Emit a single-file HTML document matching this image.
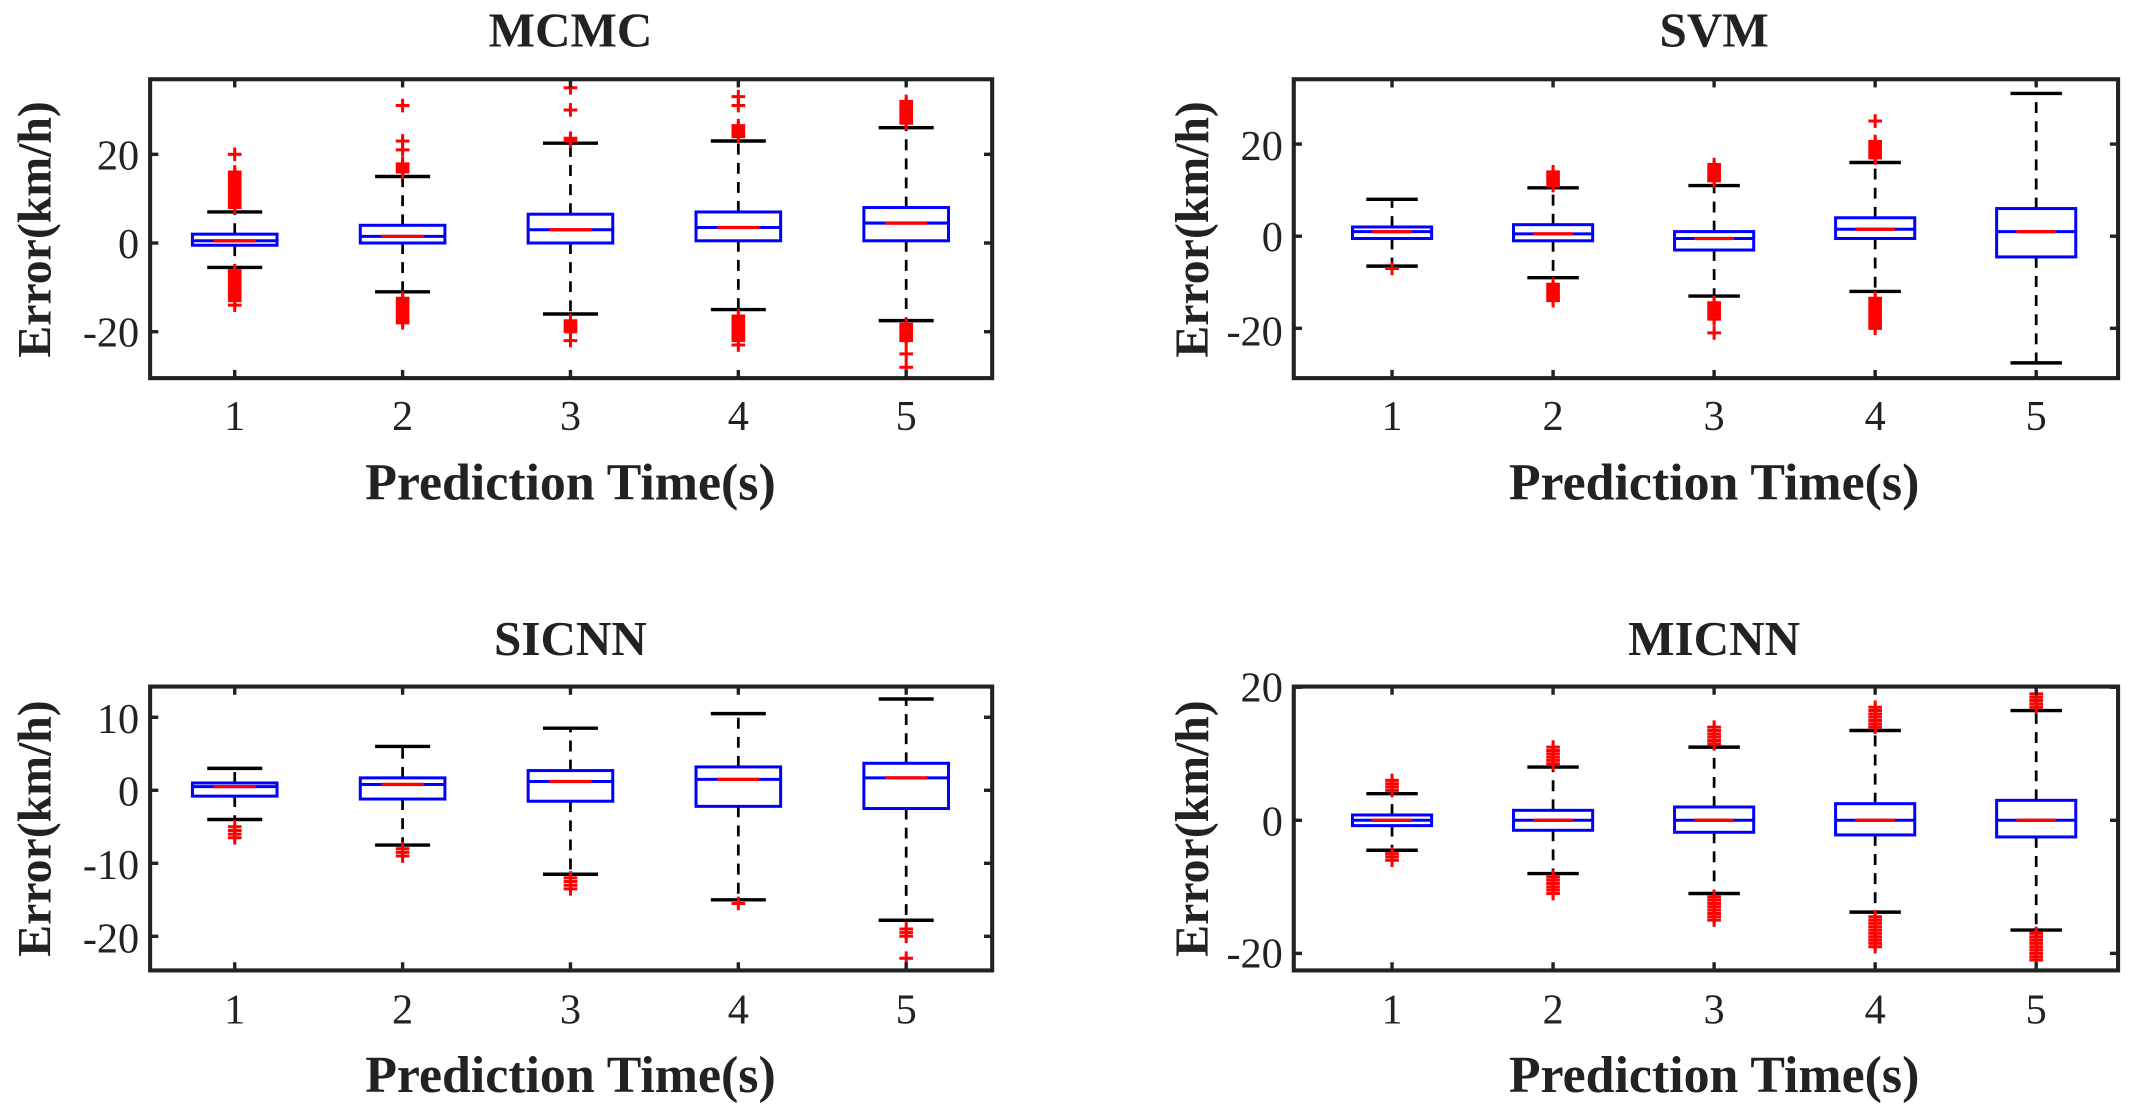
<!DOCTYPE html>
<html><head><meta charset="utf-8"><style>
html,body{margin:0;padding:0;background:#fff;}
svg{display:block;}
text{font-family:"Liberation Serif",serif;fill:#222;}
.t{font-weight:bold;font-size:36px;text-anchor:middle;}
.xl{font-weight:bold;font-size:38px;text-anchor:middle;}
.tk{font-size:31px;}
.yl{font-weight:bold;font-size:35px;text-anchor:middle;}
</style></head><body>
<svg id="s" width="2129" height="1107" viewBox="0 0 1560 811" xmlns="http://www.w3.org/2000/svg">
<text class="t" x="418" y="34">MCMC</text>
<text class="t" x="1256" y="34">SVM</text>
<text class="t" x="418" y="480">SICNN</text>
<text class="t" x="1256" y="480">MICNN</text>
<text class="xl" x="418" y="366">Prediction Time(s)</text>
<text class="xl" x="1256" y="366">Prediction Time(s)</text>
<text class="xl" x="418" y="800">Prediction Time(s)</text>
<text class="xl" x="1256" y="800">Prediction Time(s)</text>
<text class="yl" transform="translate(37,168) rotate(-90)">Error(km/h)</text>
<text class="yl" transform="translate(885,168) rotate(-90)">Error(km/h)</text>
<text class="yl" transform="translate(37,607) rotate(-90)">Error(km/h)</text>
<text class="yl" transform="translate(885,607) rotate(-90)">Error(km/h)</text>
<g class="tk" text-anchor="end">
<text x="102" y="124">20</text><text x="102" y="189">0</text><text x="102" y="254">-20</text>
<text x="940" y="117">20</text><text x="940" y="184">0</text><text x="940" y="253">-20</text>
<text x="102" y="537">10</text><text x="102" y="590">0</text><text x="102" y="644">-10</text><text x="102" y="698">-20</text>
<text x="940" y="514">20</text><text x="940" y="612">0</text><text x="940" y="709">-20</text>
</g>
<g class="tk" text-anchor="middle">
<text x="172" y="315">1</text><text x="295" y="315">2</text><text x="418" y="315">3</text><text x="541" y="315">4</text><text x="664" y="315">5</text>
<text x="1020" y="315">1</text><text x="1138" y="315">2</text><text x="1256" y="315">3</text><text x="1374" y="315">4</text><text x="1492" y="315">5</text>
<text x="172" y="750">1</text><text x="295" y="750">2</text><text x="418" y="750">3</text><text x="541" y="750">4</text><text x="664" y="750">5</text>
<text x="1020" y="750">1</text><text x="1138" y="750">2</text><text x="1256" y="750">3</text><text x="1374" y="750">4</text><text x="1492" y="750">5</text>
</g>
</svg>
<script>
var NS="http://www.w3.org/2000/svg",S=document.getElementById('s');
function el(n,a){var e=document.createElementNS(NS,n);for(var k in a)e.setAttribute(k,a[k]);S.appendChild(e);return e;}
var P=[
{x0:110,x1:727,y0:58,y1:277,z:178,k:65/20,xs:[172,295,418,541,664],hw:31,yt:[20,0,-20],
 b:[[-0.5,2,0.5,7,-5.5,[[8,16],[20,20]],[[-6,-13],[-14,-14]]],
    [0,4,1.5,15,-11,[[16,18],[21,21],[23,23],[31,31]],[[-12,-18]]],
    [0,6.5,3,22.5,-16,[[23,24],[30,30],[35,35]],[[-17,-20],[-22,-22]]],
    [0.5,7,3.5,23,-15,[[24,27],[31,31],[33,33]],[[-16,-22],[-23,-23]]],
    [0.5,8,4.5,26,-17.5,[[27,32]],[[-18,-22],[-25,-25],[-28,-28]]]]},
{x0:948,x1:1552,y0:58,y1:277,z:173,k:67.5/20,xs:[1020,1138,1256,1374,1492],hw:29,yt:[20,0,-20],
 b:[[-0.5,2,1,8,-6.5,[],[[-7,-7]]],
    [-1,2.5,0.5,10.5,-9,[[11,14]],[[-10,-14]]],
    [-3,1,-0.5,11,-13,[[12,16]],[[-14,-18],[-21,-21]]],
    [-0.5,4,1.5,16,-12,[[17,21],[25,25]],[[-13,-20]]],
    [-4.5,6,1,31,-27.5,[],[]]]},
{x0:110,x1:727,y0:503,y1:711,z:579,k:53.5/10,xs:[172,295,418,541,664],hw:31,yt:[10,0,-10,-20],
 b:[[-0.8,1,0.5,3,-4,[],[[-5,-6.5]]],
    [-1.2,1.7,0.8,6,-7.5,[],[[-8,-9]]],
    [-1.5,2.7,1.2,8.5,-11.5,[],[[-12,-13.5]]],
    [-2.2,3.2,1.5,10.5,-15,[],[[-15.5,-15.5]]],
    [-2.5,3.7,1.7,12.5,-17.8,[],[[-19,-20],[-23,-23]]]]},
{x0:948,x1:1552,y0:503,y1:711,z:601,k:97.5/20,xs:[1020,1138,1256,1374,1492],hw:29,yt:[20,0,-20],
 b:[[-0.8,0.8,0,4,-4.5,[[4.5,6]],[[-5,-6]]],
    [-1.5,1.5,0,8,-8,[[8.5,11]],[[-8.5,-11]]],
    [-1.8,2,0,11,-11,[[11.5,14]],[[-11.5,-15]]],
    [-2.2,2.5,0,13.5,-13.8,[[14,17]],[[-14.5,-19]]],
    [-2.5,3,0,16.5,-16.5,[[17,19]],[[-17,-21]]]]}
];
P.forEach(function(p){
 function Y(v){return p.z-v*p.k;}
 p.b.forEach(function(b,i){
  var x=p.xs[i],hw=p.hw,cw=hw*0.65;
  el('line',{x1:x,x2:x,y1:Y(b[1]),y2:Y(b[3]),stroke:'#000','stroke-width':2,'stroke-dasharray':'8,6'});
  el('line',{x1:x,x2:x,y1:Y(b[0]),y2:Y(b[4]),stroke:'#000','stroke-width':2,'stroke-dasharray':'8,6'});
  el('line',{x1:x-cw,x2:x+cw,y1:Y(b[3]),y2:Y(b[3]),stroke:'#000','stroke-width':2.5});
  el('line',{x1:x-cw,x2:x+cw,y1:Y(b[4]),y2:Y(b[4]),stroke:'#000','stroke-width':2.5});
  el('rect',{x:x-hw,y:Y(b[1]),width:2*hw,height:Y(b[0])-Y(b[1]),fill:'#fff',stroke:'#0000ff','stroke-width':2.2});
  el('line',{x1:x-hw,x2:x+hw,y1:Y(b[2]),y2:Y(b[2]),stroke:'#0000ff','stroke-width':2.2});
  el('line',{x1:x-hw*0.5,x2:x+hw*0.5,y1:Y(b[2]),y2:Y(b[2]),stroke:'#ff0000','stroke-width':2.4});
  b[5].concat(b[6]).forEach(function(r){
   var lo=Math.min(r[0],r[1]),hi=Math.max(r[0],r[1]);
   var st=Math.max(0.5,2/p.k);
   for(var v=lo;v<=hi+1e-6;v+=st){
    var y=Y(v);
    el('path',{d:'M'+(x-5)+' '+y+'H'+(x+5)+'M'+x+' '+(y-5)+'V'+(y+5),stroke:'#ff0000','stroke-width':2.2,fill:'none'});
   }
  });
 });
 el('rect',{x:p.x0,y:p.y0,width:p.x1-p.x0,height:p.y1-p.y0,fill:'none',stroke:'#222','stroke-width':3});
 p.xs.forEach(function(x){
  el('line',{x1:x,x2:x,y1:p.y0,y2:p.y0+6,stroke:'#222','stroke-width':2.5});
  el('line',{x1:x,x2:x,y1:p.y1,y2:p.y1-6,stroke:'#222','stroke-width':2.5});
 });
 p.yt.forEach(function(v){
  var y=Y(v);
  el('line',{x1:p.x0,x2:p.x0+6,y1:y,y2:y,stroke:'#222','stroke-width':2.5});
  el('line',{x1:p.x1,x2:p.x1-6,y1:y,y2:y,stroke:'#222','stroke-width':2.5});
 });
});
</script>
</body></html>
